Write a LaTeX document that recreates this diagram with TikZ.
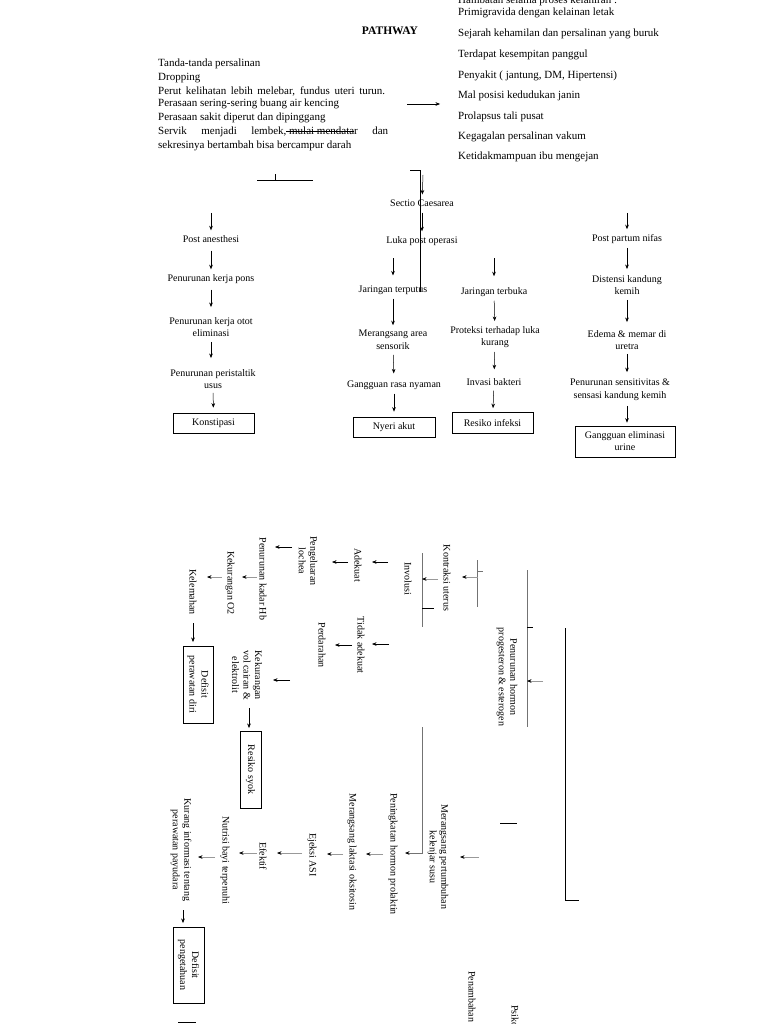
\documentclass[tikz,border=0pt]{standalone}
\usepackage{fontspec}
\setmainfont{Liberation Serif}
\usetikzlibrary{arrows.meta}
\newcommand\mystrk[1]{\setbox0\hbox{#1}\rlap{\rule[0.28em]{\wd0}{0.45pt}}\box0}
\begin{document}
\begin{tikzpicture}[x=1pt,y=-1pt,
  big/.style={font=\fontsize{11}{13}\selectfont, inner sep=0pt, anchor=west},
  lbl/.style={font=\fontsize{10}{12.5}\selectfont, align=center, inner sep=1pt},
  rl/.style={font=\fontsize{10}{11.5}\selectfont, align=center, inner sep=1pt, rotate=-90},
  boxn/.style={draw, line width=0.7pt, inner sep=1pt, align=center, font=\fontsize{10}{12}\selectfont},
  tip/.style={-{Stealth[length=4.5pt,width=3.6pt,color=black]}},
  arr/.style={tip, line width=0.5pt, shorten <=5pt, shorten >=4pt},
  farr/.style={tip, line width=0.5pt},
  garr/.style={tip, line width=0.6pt, draw=black!40},
  gline/.style={line width=0.8pt, draw=black!55},
  bline/.style={line width=0.7pt}
]
\useasboundingbox (0,0) rectangle (768,1024);
\fill[white] (0,0) rectangle (768,1024);

% ---------- title and top texts ----------
\node[font=\fontsize{11.5}{13}\selectfont\bfseries] (title) at (390,31) {PATHWAY};

\node[big] (t1) at (158,64) {Tanda-tanda persalinan};
\node[big] (t2) at (158,78) {Dropping};
\node[big] (t3) at (158,91) {\makebox[227pt][s]{Perut kelihatan lebih melebar, fundus uteri turun.}};
\node[big] (t4) at (158,104) {Perasaan sering-sering buang air kencing};
\node[big] (t5) at (158,118) {Perasaan sakit diperut dan dipinggang};
\node[big] (t6) at (158,132) {\makebox[230pt][s]{Servik menjadi lembek,\mystrk{ mulai mendata}r dan}};
\node[big] (t7) at (158,146) {sekresinya bertambah bisa bercampur darah};

\coordinate (ta) at (407,104);
\coordinate (tb) at (440,104);
\draw[farr] (ta) -- (tb);

\node[big] (r0) at (458,1) {Hambatan selama proses kelahiran :};
\node[big] (r1) at (458,13) {Primigravida dengan kelainan letak};
\node[big] (r2) at (458,34) {Sejarah kehamilan dan persalinan yang buruk};
\node[big] (r3) at (458,55) {Terdapat kesempitan panggul};
\node[big] (r4) at (458,76) {Penyakit ( jantung, DM, Hipertensi)};
\node[big] (r5) at (458,96) {Mal posisi kedudukan janin};
\node[big] (r6) at (458,117) {Prolapsus tali pusat};
\node[big] (r7) at (458,137) {Kegagalan persalinan vakum};
\node[big] (r8) at (458,157) {Ketidakmampuan ibu mengejan};

% ---------- brackets top ----------
\draw[bline] (257,180) -- (313,180);
\draw[bline] (275,180) -- (275,174);
\draw[bline] (410,170) -- (420,170) -- (420,292);

% ---------- centre column ----------
\coordinate (sc0) at (423,175);
\node[lbl] (sc) at (422,203) {Sectio Caesarea};
\node[lbl] (luka) at (422,241) {Luka post operasi};
\draw[arr, shorten <=0pt] (sc0) -- (sc);
\draw[arr] (sc) -- (luka);

% ---------- column 1 ----------
\coordinate (c1) at (211,213);
\node[lbl] (pa) at (211,239) {Post anesthesi};
\node[lbl] (pons) at (211,279) {Penurunan kerja pons};
\node[lbl] (otot) at (211,327) {Penurunan kerja otot\\eliminasi};
\node[lbl] (peri) at (213,379) {Penurunan peristaltik\\usus};
\node[boxn, minimum width=81pt, minimum height=20pt] (kons) at (213.5,423) {Konstipasi};
\draw[arr, shorten <=0pt] (c1) -- (pa);
\draw[arr, shorten <=7pt] (pa) -- (pons);
\draw[arr, shorten <=5pt, shorten >=9pt] (pons) -- (otot);
\draw[arr, shorten <=4pt, shorten >=10pt] (otot.south) -- (otot.south |- peri.north);
\draw[arr, shorten <=3pt, shorten >=5pt] (peri) -- (kons);

% ---------- column 2 ----------
\coordinate (c2) at (393,258);
\node[lbl] (jt) at (393,290) {Jaringan terputus};
\node[lbl] (msa) at (393,340) {Merangsang area\\sensorik};
\node[lbl] (grn) at (394,385) {Gangguan rasa nyaman};
\node[boxn, minimum width=82pt, minimum height=20pt] (nyeri) at (394,427) {Nyeri akut};
\draw[arr, shorten <=0pt, shorten >=9pt] (c2) -- (jt);
\draw[arr, shorten <=3pt, shorten >=4pt] (jt) -- (msa);
\draw[arr, shorten <=4pt, shorten >=6pt] (msa) -- (grn);
\draw[arr, shorten <=3pt, shorten >=5pt] (grn) -- (nyeri);

% ---------- column 3 ----------
\coordinate (c3) at (494,258);
\node[lbl] (jb) at (494,292) {Jaringan terbuka};
\node[lbl] (prot) at (495,337) {Proteksi terhadap luka\\kurang};
\node[lbl] (inv) at (494,382) {Invasi bakteri};
\node[boxn, minimum width=81pt, minimum height=21pt] (rinf) at (492.5,423) {Resiko infeksi};
\draw[arr, shorten <=0pt, shorten >=10pt] (c3) -- (jb);
\draw[arr, shorten <=3pt, shorten >=4pt] (jb) -- (prot);
\draw[arr, shorten <=3pt, shorten >=8pt] (prot) -- (inv);
\draw[arr, shorten <=4pt, shorten >=4pt] (inv) -- (rinf);

% ---------- column 4 ----------
\coordinate (c4) at (627,213);
\node[lbl] (ppn) at (627,239) {Post partum nifas};
\node[lbl] (dist) at (627,285) {Distensi kandung\\kemih};
\node[lbl] (edema) at (627,340) {Edema \& memar di\\uretra};
\node[lbl] (sens) at (620,390) {Penurunan sensitivitas \&\\sensasi kandung kemih};
\node[boxn, minimum width=100pt, minimum height=31pt] (gel) at (625,441.5) {Gangguan eliminasi\\urine};
\draw[arr, shorten <=0pt] (c4) -- (ppn);
\draw[arr, shorten <=3pt, shorten >=5pt] (ppn) -- (dist);
\draw[arr, shorten <=4pt, shorten >=7pt] (dist) -- (edema);
\draw[arr, shorten <=3pt, shorten >=6pt] (edema.south) -- (edema.south |- sens.north);
\draw[arr, shorten <=4pt, shorten >=3pt] (sens.south -| edema) -- (gel.north -| edema);

% ---------- rotated lower part ----------
\node[rl] (kontr) at (447,578) {Kontraksi uterus};
\node[rl] (invo) at (408,579) {Involusi};
\node[rl] (adek) at (358,565) {Adekuat};
\node[rl] (tadek) at (361,645) {Tidak adekuat};
\node[rl] (loch) at (308,561) {Pengeluaran\\lochea};
\node[rl] (hb) at (263,579) {Penurunan kadar Hb};
\node[rl] (o2) at (230,583) {Kekurangan O2};
\node[rl] (lemah) at (193,592) {Kelemahan};
\node[rl, boxn, minimum width=77pt, minimum height=30pt] (dpd) at (198,684.5) {Defisit\\perawatan diri};
\node[rl] (cair) at (247,675) {Kekurangan\\vol cairan \&\\elektrolit};
\node[rl, boxn, minimum width=77pt, minimum height=21pt] (syok) at (250.5,769.5) {Resiko syok};
\node[rl] (perd) at (322,645) {Perdarahan};
\node[rl] (horm) at (507,677) {Penurunan hormon\\progesteron \& esterogen};
\node[rl] (tumb) at (438,857) {Merangsang pertumbuhan\\kelenjar susu};
\node[rl] (prol) at (393,854) {Peningkatan hormon prolaktin};
\node[rl] (oks) at (352,852) {Merangsang laktasi oksitosin};
\node[rl] (ejek) at (312,855) {Ejeksi ASI};
\node[rl] (efek) at (263,856) {Efektif};
\node[rl] (nutr) at (225,860) {Nutrisi bayi terpenuhi};
\node[rl] (kinf) at (181,850) {Kurang informasi tentang\\perawatan payudara};
\node[rl, boxn, minimum width=76pt, minimum height=31pt] (dpg) at (188.5,965) {Defisit\\pengetahuan};
\node[rl, anchor=west] (pena) at (472,970) {Penambahan};
\node[rl, anchor=west] (psik) at (515,1004) {Psiko};

% bracket lines
\draw[gline] (477,560) -- (477,607);
\draw[gline] (477,571) -- (483,571);
\draw[gline] (422,553) -- (422,627);
\draw[bline] (422,608) -- (434,608);
\draw[gline] (527,570) -- (527,727);
\draw[bline] (527,627) -- (533,627);
\draw[bline] (565,628) -- (565,900) -- (579,900);
\draw[bline] (500,823) -- (517,823);
\draw[bline] (178,1022) -- (196,1022);

% arrows of the rotated part
\draw[garr] (478,577) -- (462,577);
\draw[garr] (438,579) -- (422,579);
\draw[farr] (388,562) -- (372,562);
\draw[farr] (389,644) -- (372,644);
\draw[farr] (348,562) -- (332,562);
\draw[farr] (352,645) -- (335,645);
\draw[farr] (292,547) -- (275,547);
\draw[garr] (257,577) -- (242,577);
\draw[garr] (222,577) -- (207,577);
\draw[farr] (193,623) -- (193,642);
\draw[farr] (290,680) -- (273,680);
\draw[farr] (249,708) -- (249,728);
\draw[garr] (543,681) -- (527,681);
\draw[garr] (479,857) -- (460,857);
\draw[gline, tip] (422,727) -- (422,853) -- (405,853);
\draw[garr] (383,854) -- (366,854);
\draw[garr] (343,854) -- (327,854);
\draw[garr] (302,853) -- (277,853);
\draw[garr] (257,853) -- (239,853);
\draw[garr] (215,857) -- (198,857);
\draw[farr] (183,910) -- (183,923);
\end{tikzpicture}
\end{document}
